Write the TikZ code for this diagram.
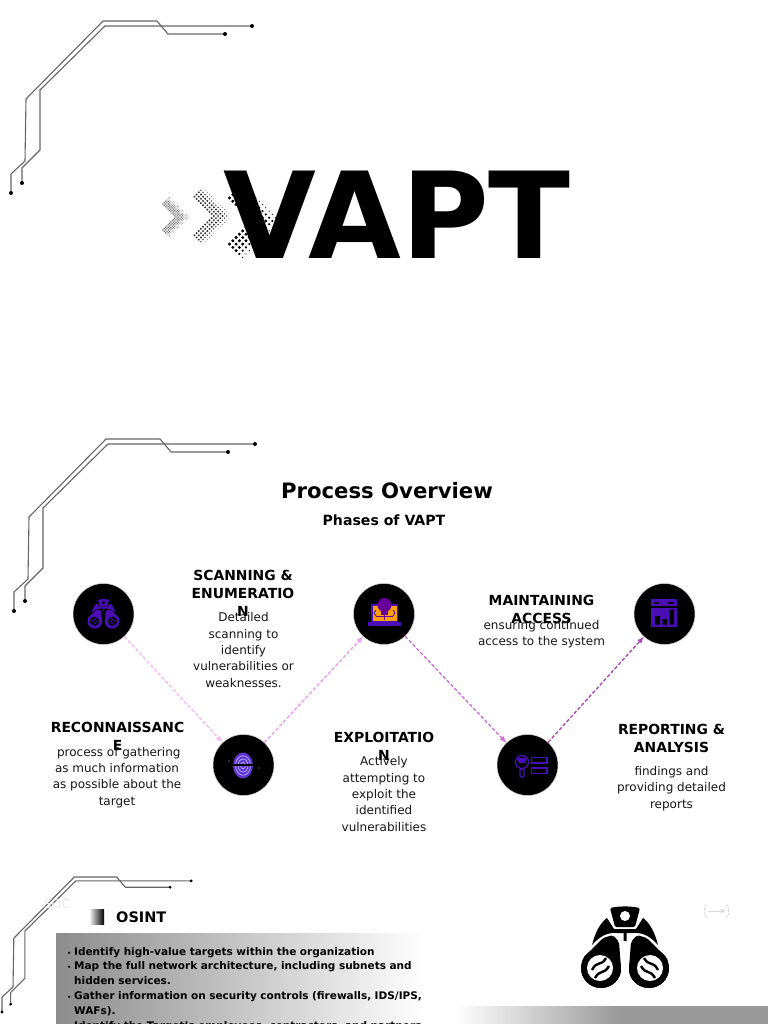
\documentclass[tikz,border=0pt]{standalone}
\usepackage{fontspec}
\setmainfont{DejaVu Sans}
\usetikzlibrary{arrows,arrows.meta,calc}

\definecolor{iconpurple}{HTML}{4A0FB4}
\definecolor{bodygray}{HTML}{161616}

% tip x, centre y, arm reach, arm width, pitch, radius, colour
\newcommand{\dotchevron}[7]{
  \pgfmathtruncatemacro{\na}{#3/#5+1}
  \pgfmathtruncatemacro{\nb}{#3/(2*#5)+1}
  \foreach \a in {0,...,\na} {
    \foreach \b in {-\nb,...,\nb} {
      \pgfmathtruncatemacro{\keep}{(mod(abs(\a+\b),2)==0 && \a>=abs(\b) && \a<=abs(\b)+#4/#5 && \a+abs(\b)<=#3/#5) ? 1 : 0}
      \ifnum\keep=1
        \pgfmathsetmacro{\rad}{#6*(1-0.6*max(0,1-(\a-abs(\b))*#5/(#4*0.45)))}
        \fill[#7] ({#1-\a*#5},{#2+\b*#5}) circle (\rad pt);
      \fi
    }
  }
}

% centre x, centre y, scale, ink colour, lens and gap colour
\newcommand{\binoculars}[5]{
  \begin{scope}[shift={(#1,#2)},scale=#3]
    \foreach \side in {1,-1} {
      \begin{scope}[xscale=\side]
        \fill[#4] (-33,0) .. controls (-30,-12) and (-25,-22) .. (-18,-27) -- (-11,-16) -- (0,-16) -- (0,-4) -- (-1.5,-4)
          -- (-1.5,-12) -- (-8,-12) .. controls (-18,-13) and (-26,-8) .. (-33,0) -- cycle;
        \fill[#4,rounded corners=#3*2pt] (-44,23) -- (-42,13) -- (-22,-7) -- (-12,-10) -- (-6,-3) -- (-4,23)
          arc[start angle=0,end angle=180,radius=20];
        \fill[#4] (-24,23) circle (20);
        \fill[#5] (-25,23) circle (13);
        \draw[#4,line width=#3*2.4pt] (-33,25) .. controls (-28,15) and (-24,22) .. (-19,13);
        \draw[#4,line width=#3*2.4pt] (-30,33) .. controls (-25,24) and (-21,30) .. (-16,21);
      \end{scope}
    }
    \fill[#4,rounded corners=#3*1.5pt] (-15,-37) .. controls (-5,-39) and (5,-39) .. (15,-37) -- (10,-18) -- (-10,-18) -- cycle;
    \fill[#5] (0,-29) circle (5);
  \end{scope}
}

\newcommand{\osintdot}{\leavevmode\llap{{\fontsize{6}{6}\selectfont•}\hspace{3pt}}}

\begin{document}
\begin{tikzpicture}[x=1pt,y=-1pt,
    phase/.style={circle,fill=black,draw=gray!35,line width=0.5pt,minimum size=61pt,inner sep=0pt},
    heading/.style={align=center,font=\fontsize{13.9}{18}\selectfont\bfseries,text=black},
    detail/.style={align=center,font=\fontsize{12}{16.3}\selectfont,text=bodygray},
    link/.style={->,>=latex,line width=1.3pt,dash pattern=on 3.5pt off 2pt},
    wire/.style={black!60,line width=1.1pt}]
  \path[use as bounding box,clip] (0,0) rectangle (768,1024);
  \fill[white] (0,0) rectangle (768,1024);

  % circuit traces
  \foreach \sx/\sy/\sc in {0/0/1,3/418/1,-6.6/860.5/0.785} {
    \begin{scope}[shift={(\sx,\sy)},scale=\sc]
      \draw[wire] (11,193) -- (11,174) -- (25,161) -- (26,99) -- (103,21) -- (157,21) -- (168,34) -- (225,34);
      \draw[wire] (22,183) -- (22,168) -- (40,150) -- (40,90) -- (105,26) -- (252,26);
      \foreach \dx/\dy in {11/193,22/183,225/34,252/26}
        \fill[black] (\dx,\dy) circle (2);
    \end{scope}
  }

  % title page
  \dotchevron{189}{217}{41}{14}{1.3}{0.8}{black!55}
  \dotchevron{231}{216}{58}{19}{2.15}{1.1}{black!80}
  \dotchevron{279}{221}{77}{27}{3.3}{1.65}{black}
  \node[font=\fontsize{120}{120}\selectfont\bfseries,text=black,inner sep=0pt] (title) at (397,215) {VAPT};

  % process overview
  \node[font=\fontsize{21.2}{24}\selectfont\bfseries,text=black] (overview) at (387,491) {Process Overview};
  \node[font=\fontsize{14.1}{16}\selectfont\bfseries,text=black] (phases) at (384,520) {Phases of VAPT};

  \node[phase] (P1) at (103.5,614) {};
  \node[phase] (P2) at (243.5,765) {};
  \node[phase] (P3) at (384,614) {};
  \node[phase] (P4) at (527.5,765) {};
  \node[phase] (P5) at (664.5,614) {};

  \draw[link,color={rgb,255:red,247;green,180;blue,247}] (P1) -- (P2);
  \draw[link,color={rgb,255:red,236;green,150;blue,240}] (P2) -- (P3);
  \draw[link,color={rgb,255:red,208;green,105;blue,220}] (P3) -- (P4);
  \draw[link,color={rgb,255:red,170;green,65;blue,180}] (P4) -- (P5);

  \node[heading] (h1) at (117.5,736) {RECONNAISSANC\\E};
  \node[heading] (h2) at (243,593) {SCANNING \&\\ENUMERATIO\\N};
  \node[heading] (h3) at (384,746) {EXPLOITATIO\\N};
  \node[heading] (h4) at (541.5,609) {MAINTAINING\\ACCESS};
  \node[heading] (h5) at (671.5,738) {REPORTING \&\\ANALYSIS};

  \node[detail] (d1) at (117,777.5) {\hspace{3.5pt}process of gathering\\as much information\\as possible about the\\target};
  \node[detail] (d2) at (243.5,650) {Detailed\\scanning to\\identify\\vulnerabilities or\\weaknesses.};
  \node[detail] (d3) at (384,794) {Actively\\attempting to\\exploit the\\identified\\vulnerabilities};
  \node[detail] (d4) at (541.5,634.5) {ensuring continued\\access to the system};
  \node[detail] (d5) at (671.5,788.5) {findings and\\providing detailed\\reports};

  % icons
  \binoculars{103.5}{613}{0.36}{iconpurple}{black}

  \fill[blue!55!violet!80!white] (243,765.5) ellipse (10 and 13);
  \foreach \rr in {2.5,5,7.5}
    \draw[white!70!blue,line width=0.7pt] (243,765.5) ellipse ({\rr} and {\rr*1.3});
  \draw[black,line width=1.2pt] (232,765) -- (254,765);
  \fill[gray!60] (229,761) circle (0.6) (259,768) circle (0.6);

  \fill[iconpurple] (371,604) rectangle (398,622);
  \fill[orange!75!yellow] (372.5,605.5) rectangle (396.5,621);
  \fill[iconpurple] (368,622) rectangle (401,626);
  \fill[violet!80!blue] (384.5,605) circle (7);
  \fill[violet!80!blue] (381,609) rectangle (388,615);
  \draw[violet!80!blue,line width=1pt] (376,616) -- (393,616) (384.5,612) -- (384.5,620);
  \draw[iconpurple,line width=0.9pt] (376,610) -- (374,613) -- (376,616) (393,610) -- (395,613) -- (393,616);

  \draw[iconpurple,line width=1.3pt] (522,762) circle (6.5);
  \fill[iconpurple] (517,758) -- (527,758) -- (525,763) -- (519,763) -- cycle;
  \draw[iconpurple,line width=1.3pt,rounded corners=1pt] (520,769) rectangle (524,777);
  \draw[iconpurple,line width=1.1pt] (531.5,757.5) rectangle (547,763);
  \draw[iconpurple,line width=1.1pt] (531.5,768) rectangle (547,773.5);

  \fill[iconpurple] (651,599) rectangle (677,606);
  \fill[iconpurple] (651,607.5) rectangle (677,627);
  \fill[black] (654,602) rectangle (659,603.5) (668,602) rectangle (674,603.5);
  \fill[black] (655,616) rectangle (660,624.5) (662.5,619) rectangle (667,624.5) (669.5,609.5) rectangle (674,624.5);

  % OSINT page
  \node[font=\fontsize{12.5}{14}\selectfont,text=gray!18] (faint) at (57,904) {SOC};
  \shade[left color=white,middle color=black!85,right color=black] (89,909) rectangle (104,924);
  \node[font=\fontsize{14.5}{18}\selectfont\bfseries,text=black,anchor=west,inner sep=0pt] (osint) at (116,917.5) {OSINT};
  \shade[left color=black!45,middle color=black!20,right color=white] (56,933) rectangle (426,1024);
  \node[font=\fontsize{10.5}{14.8}\selectfont\bfseries,text=black,anchor=north west,align=left,inner sep=0pt,text width=360pt] (bullets) at (74,947) {%
    \osintdot Identify high-value targets within the organization\\
    \osintdot Map the full network architecture, including subnets and\\
    hidden services.\\
    \osintdot Gather information on security controls (firewalls, IDS/IPS,\\
    WAFs).\\
    \osintdot Identify the Target's employees, contractors, and partners};

  \binoculars{625}{945}{1}{black}{white}

  \draw[gray!30,line width=1pt,dash pattern=on 2pt off 1pt,rounded corners=4pt] (704.5,904.5) rectangle (728.5,918);
  \fill[white] (708,902) rectangle (725,906) (708,916) rectangle (725,920);
  \draw[gray!30,line width=0.7pt,->,>=stealth'] (708,911) -- (725,911);

  \shade[left color=white,right color=black!40] (455,1006) rectangle (620,1024);
  \fill[black!40] (620,1006) rectangle (768,1024);
\end{tikzpicture}
\end{document}
